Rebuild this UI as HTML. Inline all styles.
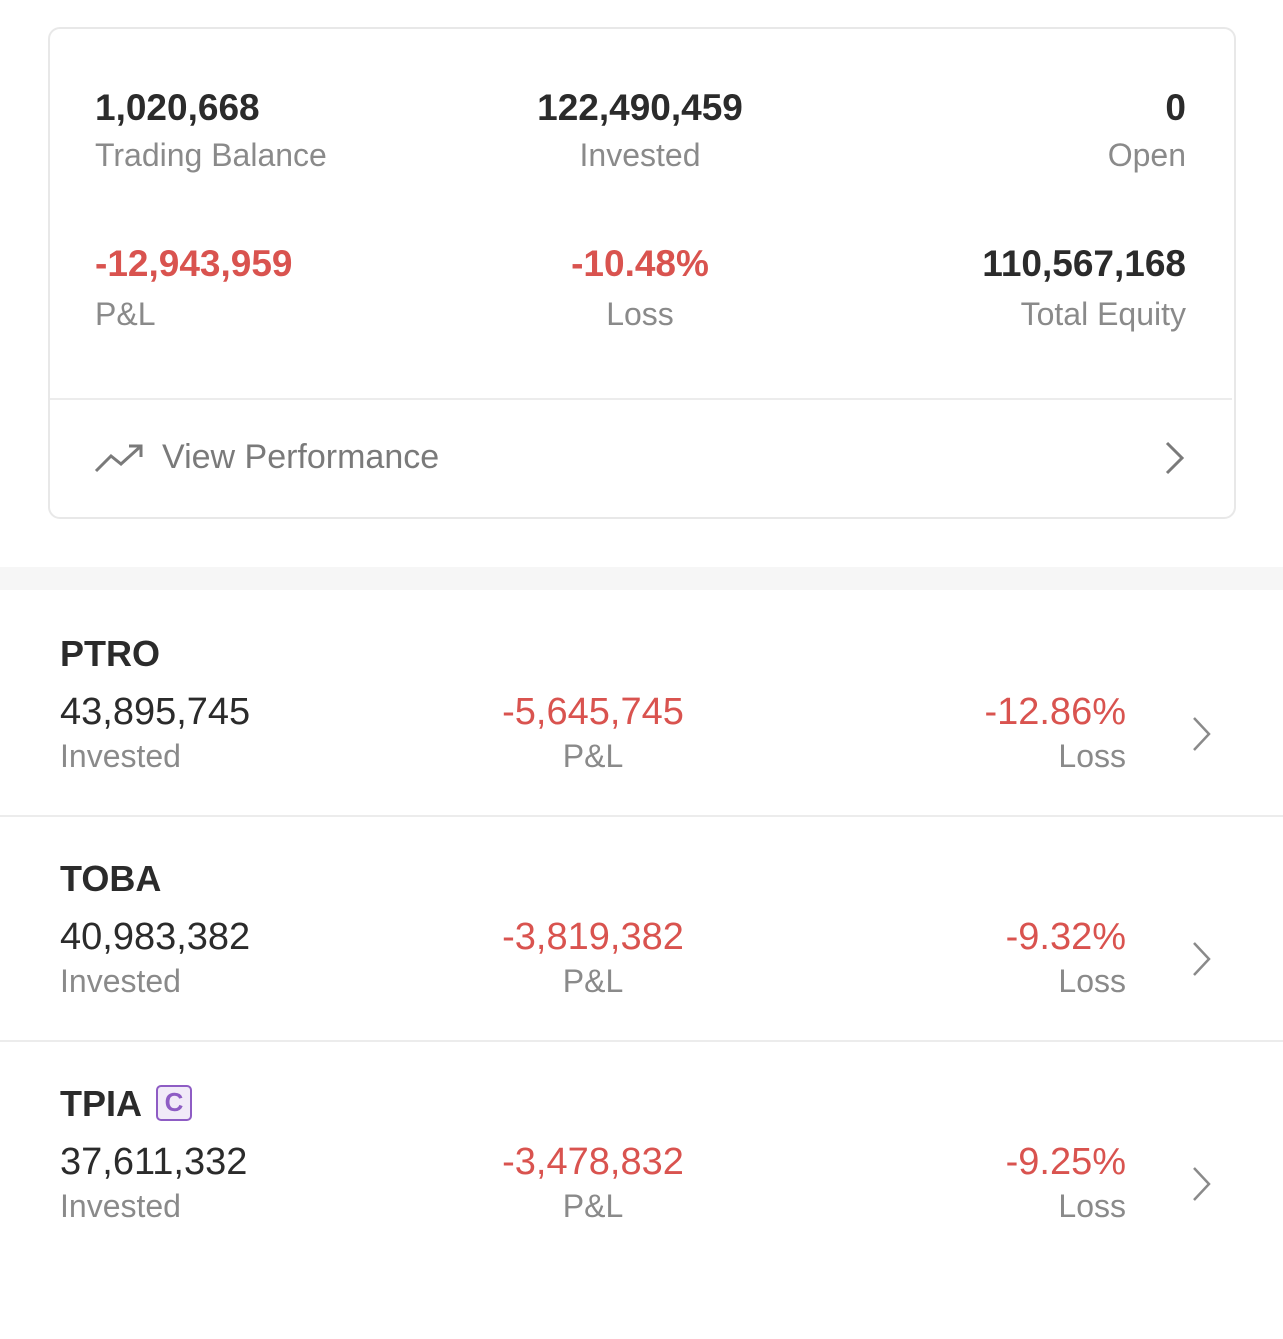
<!DOCTYPE html><html><head><style>
body{margin:0;width:1283px;height:1339px;background:#fff;position:relative;font-family:"Liberation Sans",sans-serif;overflow:hidden}
.a{position:absolute;line-height:1;white-space:nowrap}
.n{font-size:37px;font-weight:bold;color:#2b2b2b}
.l{font-size:32px;color:#8a8a8a}
.m{font-size:38px;color:#2b2b2b}
.t{font-size:36px;font-weight:bold;color:#2b2b2b}
.r{color:#d9534f}
.c{transform:translateX(-50%)}
.rt{transform:translateX(-100%)}
</style></head><body>
<div class="a" style="left:48px;top:27px;width:1184px;height:488px;border:2px solid #e8e8e8;border-radius:12px"></div>
<div class="a" style="left:50px;top:398px;width:1182px;height:2px;background:#ececec"></div>
<div class="a n" style="left:95px;top:89px">1,020,668</div>
<div class="a l" style="left:95px;top:139px">Trading Balance</div>
<div class="a n c" style="left:640px;top:89px">122,490,459</div>
<div class="a l c" style="left:640px;top:139px">Invested</div>
<div class="a n rt" style="left:1186px;top:89px">0</div>
<div class="a l rt" style="left:1186px;top:139px">Open</div>
<div class="a n r" style="left:95px;top:245px">-12,943,959</div>
<div class="a l" style="left:95px;top:298px">P&amp;L</div>
<div class="a n r c" style="left:640px;top:245px">-10.48%</div>
<div class="a l c" style="left:640px;top:298px">Loss</div>
<div class="a n rt" style="left:1186px;top:245px">110,567,168</div>
<div class="a l rt" style="left:1186px;top:298px">Total Equity</div>
<svg class="a" style="left:94px;top:442px" width="52" height="32"><polyline points="2,29 17,14 27,22 47,4" fill="none" stroke="#7a7a7a" stroke-width="3"/><polyline points="35,4 47,4 47,15" fill="none" stroke="#7a7a7a" stroke-width="3"/></svg>
<div class="a" style="left:162px;top:440px;font-size:34px;color:#7a7a7a">View Performance</div>
<svg class="a" style="left:1162px;top:440px" width="26" height="36"><polyline points="5,3 20,18 5,33" fill="none" stroke="#7a7a7a" stroke-width="3"/></svg>
<div class="a" style="left:0;top:567px;width:1283px;height:23px;background:#f6f6f6"></div>

<div class="a t" style="left:60px;top:636px">PTRO</div>
<div class="a m" style="left:60px;top:693px">43,895,745</div>
<div class="a l" style="left:60px;top:740px">Invested</div>
<div class="a m r c" style="left:593px;top:693px">-5,645,745</div>
<div class="a l c" style="left:593px;top:740px">P&amp;L</div>
<div class="a m r rt" style="left:1126px;top:693px">-12.86%</div>
<div class="a l rt" style="left:1126px;top:740px">Loss</div>
<svg class="a" style="left:1190px;top:716px" width="24" height="36"><polyline points="4,2 19,18 4,34" fill="none" stroke="#8a8a8a" stroke-width="2.5"/></svg>
<div class="a" style="left:0;top:815px;width:1283px;height:2px;background:#ececec"></div>

<div class="a t" style="left:60px;top:861px">TOBA</div>
<div class="a m" style="left:60px;top:918px">40,983,382</div>
<div class="a l" style="left:60px;top:965px">Invested</div>
<div class="a m r c" style="left:593px;top:918px">-3,819,382</div>
<div class="a l c" style="left:593px;top:965px">P&amp;L</div>
<div class="a m r rt" style="left:1126px;top:918px">-9.32%</div>
<div class="a l rt" style="left:1126px;top:965px">Loss</div>
<svg class="a" style="left:1190px;top:941px" width="24" height="36"><polyline points="4,2 19,18 4,34" fill="none" stroke="#8a8a8a" stroke-width="2.5"/></svg>
<div class="a" style="left:0;top:1040px;width:1283px;height:2px;background:#ececec"></div>

<div class="a t" style="left:60px;top:1086px">TPIA</div>
<div class="a" style="left:156px;top:1085px;width:36px;height:36px;box-sizing:border-box;border:2.5px solid #8e5cc4;border-radius:5px;background:#f1eaf8;color:#8e5cc4;font-size:26px;font-weight:bold;text-align:center;line-height:31px">C</div>
<div class="a m" style="left:60px;top:1143px">37,611,332</div>
<div class="a l" style="left:60px;top:1190px">Invested</div>
<div class="a m r c" style="left:593px;top:1143px">-3,478,832</div>
<div class="a l c" style="left:593px;top:1190px">P&amp;L</div>
<div class="a m r rt" style="left:1126px;top:1143px">-9.25%</div>
<div class="a l rt" style="left:1126px;top:1190px">Loss</div>
<svg class="a" style="left:1190px;top:1166px" width="24" height="36"><polyline points="4,2 19,18 4,34" fill="none" stroke="#8a8a8a" stroke-width="2.5"/></svg>
</body></html>
